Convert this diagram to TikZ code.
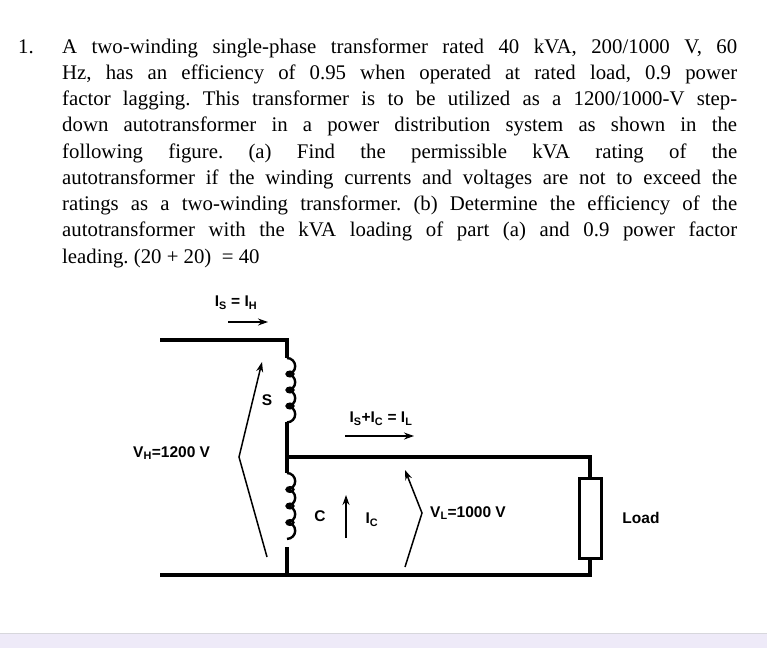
\documentclass[tikz,border=0pt]{standalone}
\usepackage{fontspec}
\usetikzlibrary{arrows.meta}
\setmainfont{Liberation Serif}
\newfontfamily\lab{Liberation Sans}
\frenchspacing
\begin{document}
\begin{tikzpicture}[x=1pt,y=-1pt,
  wire/.style={line width=3.4pt},
  arr/.style={line width=1.5pt,-{Stealth[length=10pt,width=7pt]}},
  lbl/.style={font=\lab\bfseries\fontsize{15.5}{18}\selectfont,inner sep=0pt},
  txt/.style={font=\fontsize{20.8}{24}\selectfont,anchor=base west,inner sep=0pt}]
\useasboundingbox (0,0) rectangle (767,648);
\fill[fill={rgb,255:red,238;green,234;blue,248}] (0,633) rectangle (767,648);
\draw[color={rgb,255:red,215;green,215;blue,220},line width=0.8pt] (0,633) -- (767,633);
% text
\node[txt] (n1) at (18,53) {1.};
\foreach \t [count=\i] in {
 {A two-winding single-phase transformer rated 40 kVA, 200/1000 V, 60},
 {Hz, has an efficiency of 0.95 when operated at rated load, 0.9 power},
 {factor lagging. This transformer is to be utilized as a 1200/1000-V step-},
 {down autotransformer in a power distribution system as shown in the},
 {following figure. (a) Find the permissible kVA rating of the},
 {autotransformer if the winding currents and voltages are not to exceed the},
 {ratings as a two-winding transformer. (b) Determine the efficiency of the},
 {autotransformer with the kVA loading of part (a) and 0.9 power factor}}
 \node[txt] (l\i) at (62,{53+(\i-1)*26.25}) {\makebox[675pt][s]{\t}};
\node[txt] (l9) at (62,263) {leading. (20 + 20) \ = 40};
% wires
\coordinate (tl) at (160,340); \coordinate (tr) at (287,340);
\coordinate (mj) at (287,457); \coordinate (bl) at (160,575); \coordinate (bj) at (287,575);
\coordinate (ltop) at (590,457); \coordinate (lbot) at (590,575);
\draw[wire] (tl) -- (tr) -- (287,358);
\draw[wire] (287,422) -- (287,473);
\draw[wire] (287,547) -- (bj);
\draw[wire] (mj) -- (ltop) -- (590,478);
\draw[wire] (590,558) -- (lbot) -- (bj) -- (bl);
\node[draw,line width=3pt,minimum width=22pt,minimum height=80pt,inner sep=0pt] (load) at (590,518) {};
% coils
\foreach \y in {358,374,390,406, 473,489.5,506,522.5}{
  \draw[line width=2.4pt] (287,\y) arc[start angle=-90,end angle=90,radius=8.2];
}
\foreach \y in {374,390,406,489.5,506,522.5}{
  \draw[line width=2.2pt] (290,\y) ellipse[x radius=3.5,y radius=2.4];
}
% labels and arrows
\node[lbl] (ish) at (236,303) {I\textsubscript{S} = I\textsubscript{H}};
\coordinate (a1s) at (228,322); \coordinate (a1e) at (268,322);
\draw[arr] (a1s) -- (a1e);
\node[lbl] (s) at (267,400) {S};
\node[lbl] (isl) at (381,419) {I\textsubscript{S}+I\textsubscript{C} = I\textsubscript{L}};
\coordinate (a2s) at (345,436); \coordinate (a2e) at (414,436);
\draw[arr] (a2s) -- (a2e);
\node[lbl,anchor=west] (vh) at (133,453) {V\textsubscript{H}=1200 V};
\coordinate (vh1) at (267,557); \coordinate (vh2) at (239,457); \coordinate (vh3) at (262,362);
\draw[arr] (vh1) -- (vh2) -- (vh3);
\node[lbl] (c) at (320,516) {C};
\coordinate (ic1) at (346,538); \coordinate (ic2) at (346,495);
\draw[arr] (ic1) -- (ic2);
\node[lbl] (ic) at (372,520) {I\textsubscript{C}};
\coordinate (vl1) at (405,567); \coordinate (vl2) at (422,513); \coordinate (vl3) at (405,470);
\draw[arr] (vl1) -- (vl2) -- (vl3);
\node[lbl,anchor=west] (vl) at (430,513) {V\textsubscript{L}=1000 V};
\node[lbl] (ld) at (641,518) {Load};
\end{tikzpicture}
\end{document}
